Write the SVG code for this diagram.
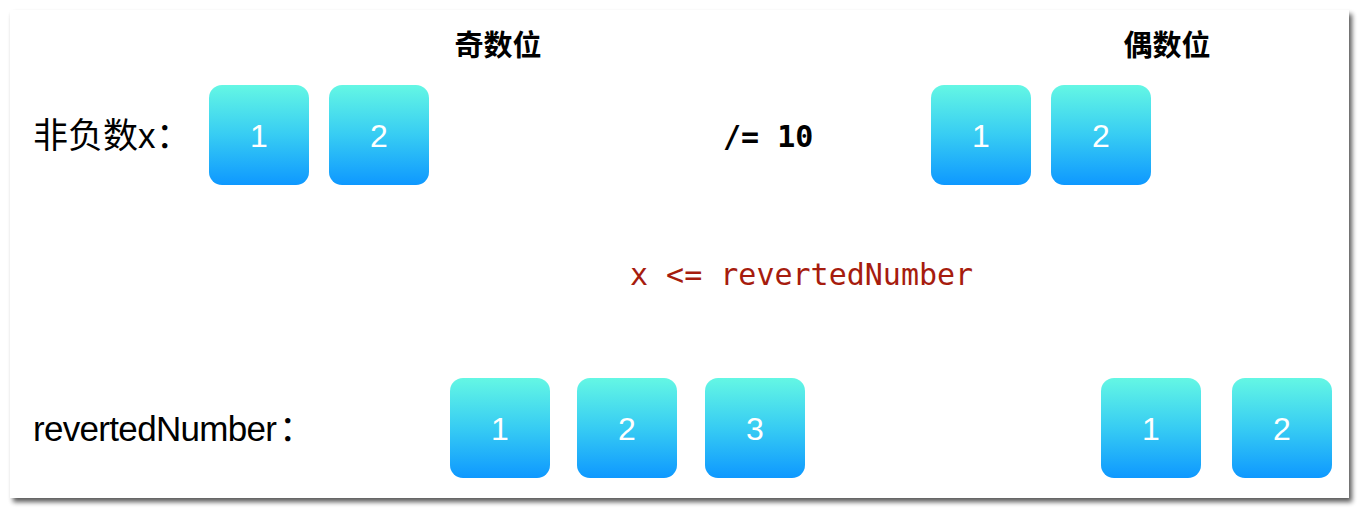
<svg xmlns="http://www.w3.org/2000/svg" width="1360" height="510" viewBox="0 0 1360 510">
<defs>
<linearGradient id="g" x1="0" y1="0" x2="0" y2="1">
<stop offset="0" stop-color="#64F7E4"/>
<stop offset="0.5" stop-color="#37CCF3"/>
<stop offset="1" stop-color="#0E98FF"/>
</linearGradient>
<filter id="sh" x="-5%" y="-5%" width="110%" height="115%">
<feGaussianBlur in="SourceAlpha" stdDeviation="2.5"/>
<feOffset dx="3" dy="4" result="b"/>
<feComponentTransfer><feFuncA type="linear" slope="0.65"/></feComponentTransfer>
<feMerge><feMergeNode/><feMergeNode in="SourceGraphic"/></feMerge>
</filter>
<style>
.box{fill:url(#g)}
.num{font-family:"Liberation Sans","Noto Sans",sans-serif;font-size:32px;fill:#ffffff;text-anchor:middle}
.lbl{font-family:"Liberation Sans","Noto Sans CJK SC",sans-serif;font-size:35px;fill:#000000}
.title{font-family:"Noto Sans CJK SC",sans-serif;font-size:29px;font-weight:bold;fill:#000000;text-anchor:middle}
.code{font-family:"DejaVu Sans Mono","Liberation Mono",monospace;font-size:30px}
</style>
</defs>
<rect x="0" y="0" width="1360" height="510" fill="#ffffff"/>
<rect x="10" y="10" width="1339" height="488" fill="#ffffff" filter="url(#sh)"/>
<text class="title" x="498" y="56">奇数位</text>
<text class="title" x="1167" y="56">偶数位</text>
<text class="lbl" x="33" y="148">非负数x<tspan x="156">：</tspan></text>
<text class="lbl" x="33" y="441" font-size="32" textLength="244" lengthAdjust="spacing">revertedNumber</text>
<text class="lbl" x="279" y="441" font-size="32">：</text>
<text class="code" x="723" y="147" font-weight="bold" fill="#000000">/= 10</text>
<text class="code" x="630" y="285" fill="#A61C0E">x &lt;= revertedNumber</text>
<g id="x1"><rect class="box" x="209" y="85" width="100" height="100" rx="13"/><text class="num" x="259" y="147">1</text></g>
<g id="x2"><rect class="box" x="329" y="85" width="100" height="100" rx="13"/><text class="num" x="379" y="147">2</text></g>
<g id="y1"><rect class="box" x="931" y="85" width="100" height="100" rx="13"/><text class="num" x="981" y="147">1</text></g>
<g id="y2"><rect class="box" x="1051" y="85" width="100" height="100" rx="13"/><text class="num" x="1101" y="147">2</text></g>
<g id="r1"><rect class="box" x="450" y="378" width="100" height="100" rx="13"/><text class="num" x="500" y="440">1</text></g>
<g id="r2"><rect class="box" x="577" y="378" width="100" height="100" rx="13"/><text class="num" x="627" y="440">2</text></g>
<g id="r3"><rect class="box" x="705" y="378" width="100" height="100" rx="13"/><text class="num" x="755" y="440">3</text></g>
<g id="s1"><rect class="box" x="1101" y="378" width="100" height="100" rx="13"/><text class="num" x="1151" y="440">1</text></g>
<g id="s2"><rect class="box" x="1232" y="378" width="100" height="100" rx="13"/><text class="num" x="1282" y="440">2</text></g>
<g id="connectors"></g>
</svg>
